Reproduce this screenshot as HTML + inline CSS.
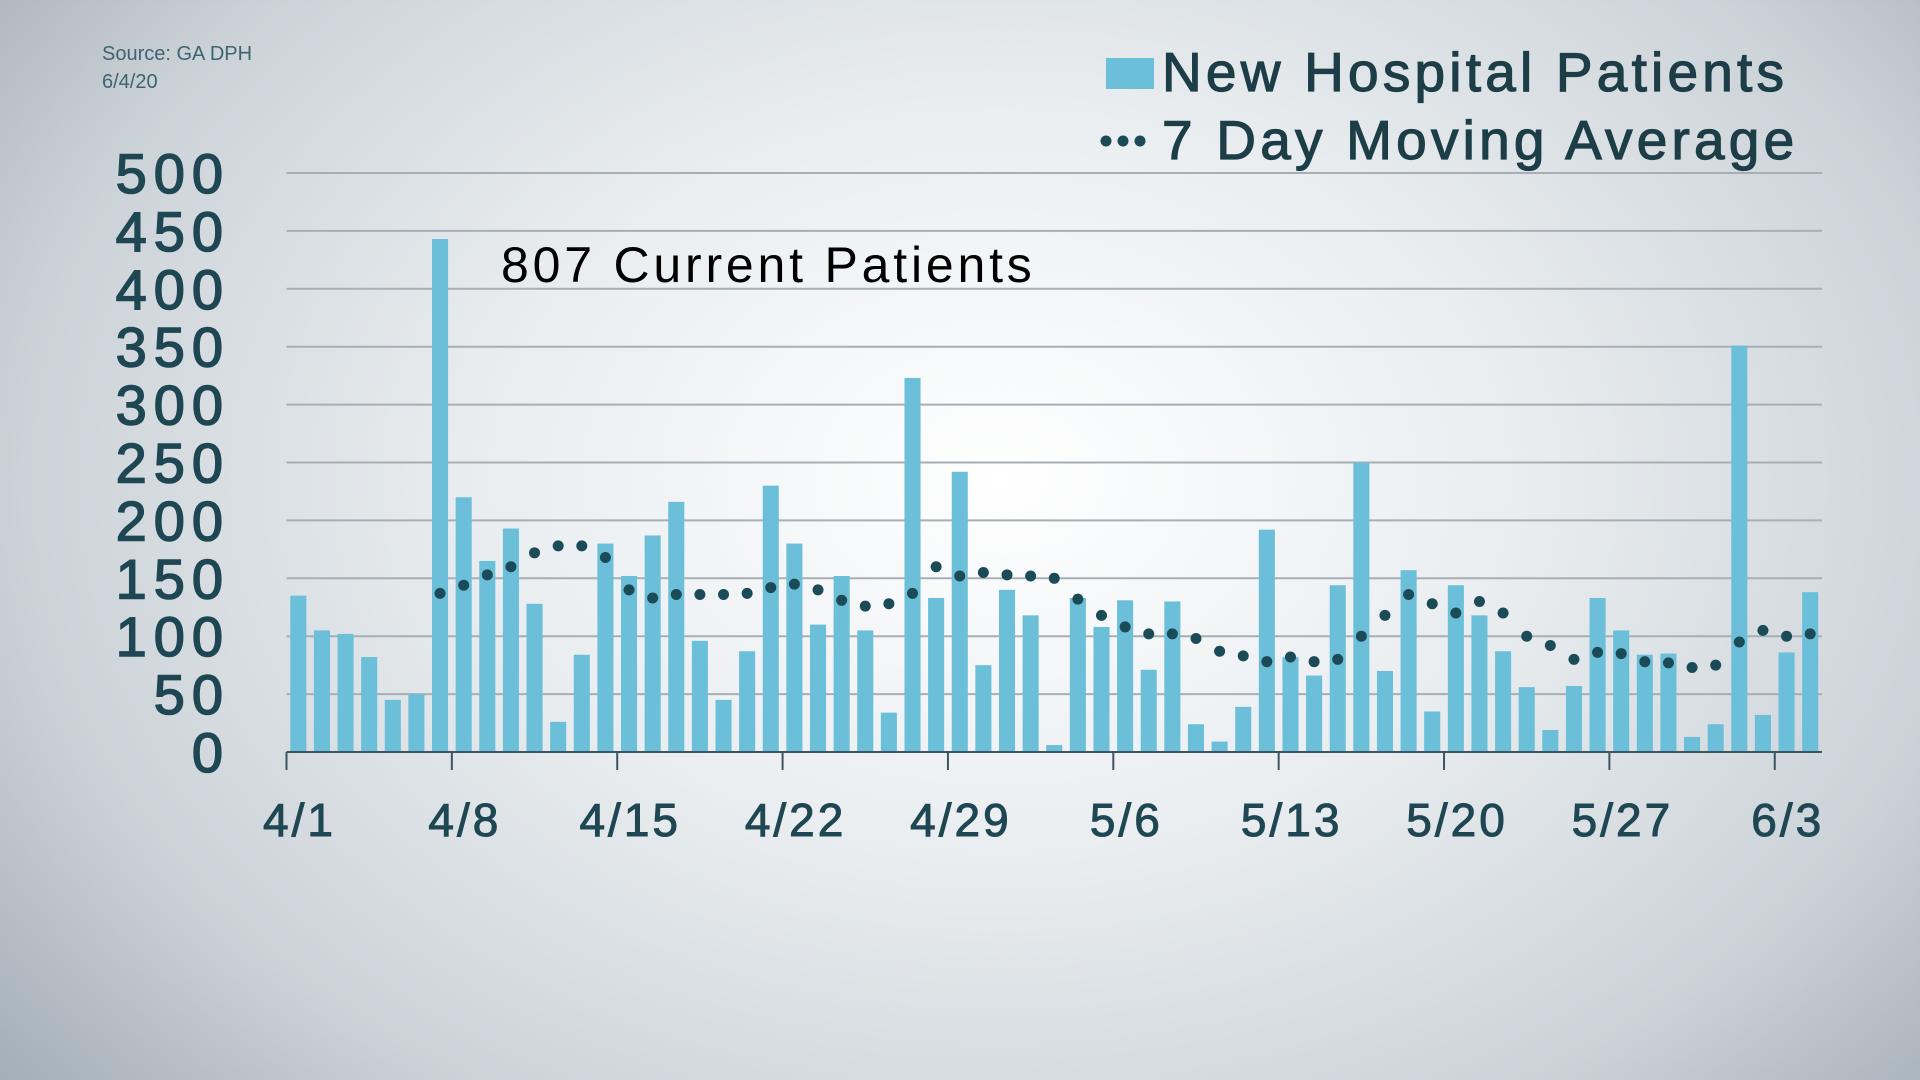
<!DOCTYPE html>
<html><head><meta charset="utf-8"><style>
html,body{margin:0;padding:0;width:1920px;height:1080px;overflow:hidden;}
body{background:radial-gradient(ellipse 1300px 950px at 1000px 480px,#ffffff 0%,#e9edf0 40%,#ccd3d8 75%,#a3adb5 100%);font-family:"Liberation Sans",sans-serif;}
</style></head><body>
<svg id="chart" width="1920" height="1080" xmlns="http://www.w3.org/2000/svg">
<text x="102" y="60" font-size="20" fill="#3d6470" font-family="Liberation Sans, sans-serif">Source: GA DPH</text>
<text x="102" y="88" font-size="20" fill="#3d6470" font-family="Liberation Sans, sans-serif">6/4/20</text>
<g>
<rect x="1106" y="58" width="48" height="31" fill="#6bbfd9"/>
<text x="1162" y="91" font-size="55" fill="#1d3d47" stroke="#1d3d47" stroke-width="1.2" letter-spacing="4.2" font-family="Liberation Sans, sans-serif">New Hospital Patients</text>
<circle cx="1106" cy="141" r="5.5" fill="#1a4b57"/><circle cx="1123" cy="141" r="5.5" fill="#1a4b57"/><circle cx="1140" cy="141" r="5.5" fill="#1a4b57"/>
<text x="1162" y="159" font-size="55" fill="#1d3d47" stroke="#1d3d47" stroke-width="1.2" letter-spacing="4.2" font-family="Liberation Sans, sans-serif">7 Day Moving Average</text>
</g>
<g id="grid"></g><g id="bars"></g><g id="dots"></g><g id="axes"></g>
<text x="501" y="282" font-size="50" fill="#000" letter-spacing="3.8" font-family="Liberation Sans, sans-serif">807 Current Patients</text>
</svg>
<script>
const yTicks=[0,50,100,150,200,250,300,350,400,450,500];
const xLabels=["4/1","4/8","4/15","4/22","4/29","5/6","5/13","5/20","5/27","6/3"];
const newPatients=[135,105,102,82,45,50,443,220,165,193,128,26,84,180,152,187,216,96,45,87,230,180,110,152,105,34,323,133,242,75,140,118,6,133,108,131,71,130,24,9,39,192,82,66,144,250,70,157,35,144,118,87,56,19,57,133,105,84,85,13,24,351,32,86,138];
const movingAvgStart=6;
const movingAvg=[137,144,153,160,172,178,178,168,140,133,136,136,136,137,142,145,140,131,126,128,137,160,152,155,153,152,150,132,118,108,102,102,98,87,83,78,82,78,80,100,118,136,128,120,130,120,100,92,80,86,85,78,77,73,75,95,105,100,102];
const NS="http://www.w3.org/2000/svg";
const X0=286.5,X1=1822,Y0=752,YT=173,N=newPatients.length,slot=(X1-X0)/N;
const yS=v=>Y0-(v/500)*(Y0-YT);
const xC=i=>X0+(i+0.5)*slot;
function mk(t,a,p){const e=document.createElementNS(NS,t);for(const k in a)e.setAttribute(k,a[k]);p.appendChild(e);return e;}
const grid=document.getElementById('grid'),bars=document.getElementById('bars'),dots=document.getElementById('dots'),axes=document.getElementById('axes');
yTicks.forEach(v=>{
 if(v>0){const l=mk('line',{x1:X0,x2:X1,y1:yS(v),y2:yS(v),stroke:'#a8afb4','stroke-width':2},grid);
 
 }
 const t=mk('text',{x:230,y:yS(v)+20,'text-anchor':'end','font-size':56,fill:'#1f4753',stroke:'#1f4753','stroke-width':1.5,'letter-spacing':7,'font-family':'Liberation Sans, sans-serif'},axes);
 t.textContent=v;
 
 
});
newPatients.forEach((v,i)=>{
 const w=slot*0.68;
 const r=mk('rect',{x:xC(i)-w/2,y:yS(v),width:w,height:Y0-yS(v),fill:'#6bbfd9'},bars);
 
 
});
movingAvg.forEach((v,j)=>{
 const c=mk('circle',{cx:xC(j+movingAvgStart),cy:yS(v),r:5.5,fill:'#1a4b57'},dots);
 
 
});
const ax=mk('line',{x1:X0,x2:X1,y1:Y0,y2:Y0,stroke:'#3d5560','stroke-width':2},axes);


xLabels.forEach((s,k)=>{
 const x=X0+k*7*slot;
 const tk=mk('line',{x1:x,x2:x,y1:Y0,y2:Y0+18,stroke:'#3d5560','stroke-width':2},axes);
 
 
 const t=mk('text',{x:x+13,y:836,'text-anchor':'middle','font-size':46,fill:'#1f4753',stroke:'#1f4753','stroke-width':1,'letter-spacing':3,'font-family':'Liberation Sans, sans-serif'},axes);
 t.textContent=s;
 
 
});
</script>
</body></html>
